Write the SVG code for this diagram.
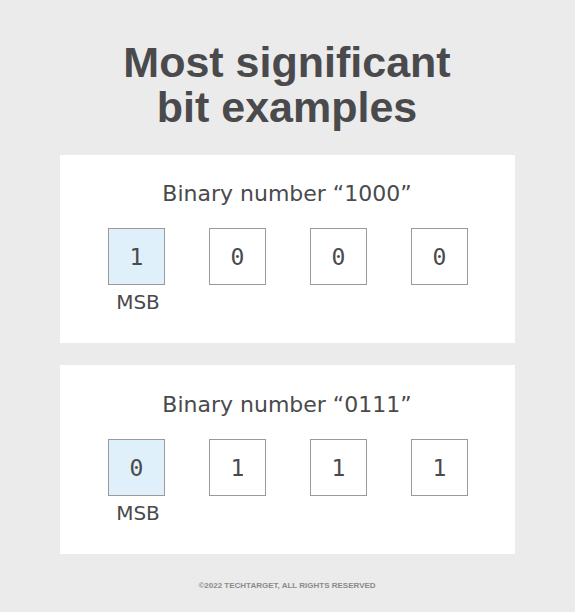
<svg xmlns="http://www.w3.org/2000/svg" width="575" height="612" viewBox="0 0 575 612">
<style>
.title{font-family:"Liberation Sans",Arial,sans-serif;font-weight:bold;font-size:43px;fill:#4a4a4d;text-anchor:middle}
.head{font-family:"DejaVu Sans","Noto Sans",sans-serif;font-size:22px;fill:#4a4a4d;text-anchor:middle}
.panel{fill:#ffffff}
.box{fill:#ffffff;stroke:#9a9a9a;stroke-width:1}
.msb{fill:#dff0fb;stroke:#9a9a9a;stroke-width:1}
.digit{font-family:"DejaVu Sans Mono","Liberation Mono",monospace;font-size:23px;fill:#4a4a4d;text-anchor:middle}
.lbl{font-family:"DejaVu Sans","Noto Sans",sans-serif;font-size:20px;fill:#4a4a4d;text-anchor:middle}
.foot{font-family:"Liberation Sans",Arial,sans-serif;font-weight:bold;font-size:8px;fill:#8a8a8a;text-anchor:middle}
</style>
<rect width="575" height="612" fill="#ebebeb"/>
<text class="title" x="287" y="77">Most significant</text>
<text class="title" x="287" y="122">bit examples</text>
<g id="panel1">
<rect class="panel" x="60" y="155" width="455" height="188"/>
<text class="head" x="287" y="201">Binary number “1000”</text>
<g id="bit1-1"><rect class="msb" x="108.5" y="228.5" width="56" height="56"/><text class="digit" x="136.5" y="265">1</text></g>
<g id="bit1-2"><rect class="box" x="209.5" y="228.5" width="56" height="56"/><text class="digit" x="237.5" y="265">0</text></g>
<g id="bit1-3"><rect class="box" x="310.5" y="228.5" width="56" height="56"/><text class="digit" x="338.5" y="265">0</text></g>
<g id="bit1-4"><rect class="box" x="411.5" y="228.5" width="56" height="56"/><text class="digit" x="439.5" y="265">0</text></g>
<text class="lbl" x="138" y="309">MSB</text>
</g>
<g id="panel2">
<rect class="panel" x="60" y="365" width="455" height="189"/>
<text class="head" x="287" y="412">Binary number “0111”</text>
<g id="bit2-1"><rect class="msb" x="108.5" y="439.5" width="56" height="56"/><text class="digit" x="136.5" y="476">0</text></g>
<g id="bit2-2"><rect class="box" x="209.5" y="439.5" width="56" height="56"/><text class="digit" x="237.5" y="476">1</text></g>
<g id="bit2-3"><rect class="box" x="310.5" y="439.5" width="56" height="56"/><text class="digit" x="338.5" y="476">1</text></g>
<g id="bit2-4"><rect class="box" x="411.5" y="439.5" width="56" height="56"/><text class="digit" x="439.5" y="476">1</text></g>
<text class="lbl" x="138" y="520">MSB</text>
</g>
<g id="connectors"></g>
<text class="foot" x="287" y="588">©2022 TECHTARGET, ALL RIGHTS RESERVED</text>
</svg>
